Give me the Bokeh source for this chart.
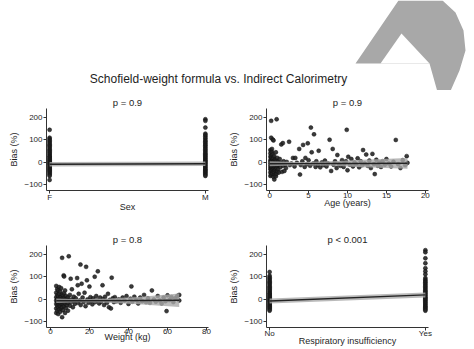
from bokeh.plotting import figure
from bokeh.layouts import column, row
from bokeh.models import Range1d, FixedTicker
from bokeh.core.properties import value
from bokeh.embed import file_html
from bokeh.resources import INLINE

TITLE = "Schofield-weight formula vs. Indirect Calorimetry"
FONT = "Liberation Sans"
TXT = "#1e1e1e"

# ---------------- data ----------------
sex_f_bias = [145, 110, 104, 98, 92, 86, 80, 75, 70, 64, 58, 53, 48, 43, 38, 33, 28, 24, 20, 16,
              12, 8, 4, 0, -4, -8, -12, -16, -20, -24, -28, -32, -36, -40, -45, -50, -55, -60, -78]
sex_m_bias = [192, 185, 155, 128, 122, 115, 108, 100, 94, 88, 82, 76, 70, 64, 58, 52, 46, 40, 35,
              30, 25, 20, 15, 10, 5, 0, -5, -10, -15, -20, -25, -30, -35, -40, -45, -50, -55, -60]
sex_fit_x = [0, 1]
sex_fit = [-8, -6]
sex_lo = [-18, -16]
sex_hi = [2, 4]

age_years = [0.1, 0.1, 0.1, 0.1, 0.1, 0.1, 0.1, 0.1, 0.1, 0.1,
             0.2, 0.2, 0.2, 0.2, 0.2, 0.2, 0.2, 0.2, 0.2, 0.2, 0.2,
             0.3, 0.3, 0.3, 0.3, 0.3, 0.3, 0.3, 0.3, 0.3,
             0.4, 0.4, 0.4, 0.4, 0.4, 0.4, 0.4, 0.4,
             0.5, 0.5, 0.5, 0.5, 0.5, 0.5, 0.5, 0.5,
             0.6, 0.6, 0.6, 0.6, 0.6, 0.6, 0.6,
             0.7, 0.7, 0.7, 0.7, 0.7, 0.7,
             0.8, 0.8, 0.8, 0.8, 0.8, 0.8,
             0.9, 0.9, 0.9, 0.9, 0.9,
             1.0, 1.0, 1.0, 1.0, 1.1, 1.1, 1.1, 1.2, 1.2, 1.3, 1.4, 1.5, 1.5, 1.6, 1.7, 1.7,
             1.8, 1.9, 2.0, 2.1, 2.2, 2.5, 2.6, 2.8, 3.0, 3.2, 3.3, 3.5, 3.8, 3.9, 4.0, 4.2,
             4.3, 4.5, 4.6, 4.8, 4.9, 5.0, 5.2, 5.3, 5.4, 5.6, 5.7, 5.9, 6.0, 6.2, 6.3, 6.5,
             6.7, 6.9, 7.1, 7.3, 7.5, 7.7, 7.9, 8.1, 8.2, 8.4, 8.6, 8.7, 8.9, 9.1, 9.3, 9.5,
             9.6, 9.8, 9.9, 10.0, 10.1, 10.3, 10.5, 10.7, 10.9, 11.1, 11.3, 11.5, 11.7, 11.9,
             12.0, 12.2, 12.4, 12.6, 12.8, 13.0, 13.2, 13.4, 13.5, 13.7, 13.9, 14.1, 14.3,
             14.5, 14.8, 15.0, 15.3, 15.6, 15.9, 16.2, 16.5, 16.8, 17.1, 17.4, 17.6, 17.7]
age_bias = [-60, -45, -30, -20, -10, 0, 10, 25, 40, 55,
            -55, -38, -25, -15, -5, 5, 18, 30, 50, 110, 185,
            -50, -35, -22, -12, -3, 8, 22, 45, 60,
            -48, -30, -18, -8, 2, 15, 35, 102,
            -65, -40, -25, -14, -4, 6, 20, 98,
            -76, -45, -28, -16, -6, 4, 28,
            -55, -35, -20, -10, 0, 12,
            -62, -30, -15, -2, 10, 45,
            -50, -25, -8, 5, 192,
            -40, -18, -5, 20, -30, -12, 3, -45, -8, 15, -20, -2, 80, -42, -15, 86,
            5, -38, -10, -25, 2, 92, -12, -5, 20, -18, 20, -2, 60, -54, -12, 5,
            78, -20, 20, -8, 85, 10, -15, 155, 45, -5, 125, -20, 5, -10, 52, -22,
            0, -12, 8, -18, -5, 101, -38, 60, -10, 5, -25, 33, -8, -15, 10, -20,
            -5, 5, 145, -35, 25, -10, 15, -18, 0, -8, 18, -22, 5, -12,
            55, -5, 35, -15, 8, -25, 38, -8, -52, 12, -15, 0, -20,
            5, -10, 15, -5, -18, 3, 100, -8, -25, 10, -12, 28, -2]
age_fit_x = [0, 4, 8, 12, 17.7]
age_fit = [-6, -5.5, -5, -4.5, -4]
age_lo = [-17, -13, -15, -21, -28]
age_hi = [5, 2, 5, 12, 20]

weight_kg = [3, 3, 3, 3, 3, 3, 3, 3.5, 3.5, 3.5, 3.5, 3.5, 3.5, 4, 4, 4, 4, 4, 4, 4,
             4.5, 4.5, 4.5, 4.5, 4.5, 4.5, 5, 5, 5, 5, 5, 5, 5.5, 5.5, 5.5, 5.5, 5.5,
             6, 6, 6, 6, 6, 6, 6.5, 6.5, 6.5, 6.5, 6.8, 7, 7, 7, 7, 7, 7.5, 7.5, 7.5, 7.5,
             8, 8, 8, 8.5, 8.5, 9, 9, 9, 9.4, 9.5, 10, 10, 10.4, 10.5, 11, 11, 11.5, 12, 12,
             12.5, 13, 13.7, 14, 14, 14.5, 15, 15.4, 15.5, 16, 16.5, 17, 17.5, 18, 18.3,
             18.7, 19, 19.5, 20, 20.5, 21, 21.5, 22, 22.7, 23, 23.5, 24, 24.3, 25, 25.5,
             26, 26.7, 27, 27.5, 28, 28.5, 29, 29.5, 30, 30.5, 31, 31.4, 32, 32.5, 33, 34,
             35, 36, 37, 38, 39, 40, 41, 41.5, 42, 43, 44, 45, 46, 47, 48, 49, 50, 51, 52,
             53, 54, 55, 56, 57, 58, 59, 59.5, 60, 61, 62, 63, 64, 65, 66, 66]
weight_bias = [-60, -40, -20, -5, 10, 30, 60, -50, -28, -12, 2, 20, 45, -65, -35, -18, -8, 5, 15, 40,
               -45, -25, -10, 0, 25, 55, -55, -30, -15, -3, 8, 35, -40, -20, -6, 12, 50,
               -79, -35, -12, 3, 22, 185, -48, -22, -2, 18, 107, -30, -10, 6, 28, 102, -60, -18, 0, 40,
               -38, -8, 15, -25, 4, -50, -15, 10, 192, -5, -28, 20, 92, -12, 0, 45, -35, -8, 12,
               -20, 5, 95, -15, 63, 25, -5, 155, -25, 70, 8, -12, 30, -30, 145,
               85, 0, -15, 57, 10, -8, -22, 5, 101, -12, 15, -5, 125, -18, 8,
               -10, 63, 2, -25, 12, -6, -15, 25, -35, -2, -40, 97, 5, -12, 10, -8,
               0, -15, 8, -5, 15, -20, 3, 58, -10, 12, -3, -18, 8, -8, 20, -12, 5, -15, 40,
               0, -10, 15, -5, -18, 8, -8, -52, 18, -3, 10, -12, 5, 15, 20, -5]
weight_fit_x = [3, 15, 30, 45, 66]
weight_fit = [-6, -6, -5.5, -5, -4]
weight_lo = [-16, -13, -15, -21, -34]
weight_hi = [4, 1, 4, 11, 26]

resp_no_bias = [122, 105, 98, 92, 86, 80, 75, 70, 64, 58, 53, 48, 43, 38, 33, 28, 24, 20, 16,
                12, 8, 4, 0, -4, -8, -12, -16, -20, -24, -28, -32, -36, -40, -45, -50]
resp_yes_bias = [219, 210, 183, 161, 139, 125, 112, 95, 88, 82, 76, 70, 64, 58, 52, 46, 40, 35,
                 30, 25, 20, 15, 10, 5, 0, -5, -10, -15, -20, -25, -30, -35, -40, -45, -50]
resp_fit_x = [0, 1]
resp_fit = [-7, 20]
resp_lo = [-18, 9]
resp_hi = [4, 31]

y_ticks = [-100, 0, 100, 200]
sex_labels = {0: "F", 1: "M"}
resp_labels = {0: "No", 1: "Yes"}
age_ticks = [0, 5, 10, 15, 20]
weight_ticks = [0, 20, 40, 60, 80]

# ---------------- watermark (decoration) ----------------
wm_x = [355, 398, 442, 455, 463, 465, 459, 448, 438, 429]
wm_y = [63, 0, 0, 12, 30, 50, 70, 95, 95, 63]
wm_in_x = [380, 401, 429]
wm_in_y = [63, 33, 63]


def style_axes(p, xticks, xlabel, overrides=None, lab_off=-1, title_off=-3):
    p.grid.visible = False
    p.outline_line_color = None
    p.yaxis.ticker = FixedTicker(ticks=y_ticks)
    p.xaxis.ticker = FixedTicker(ticks=xticks)
    if overrides:
        p.xaxis.major_label_overrides = overrides
    p.yaxis.axis_label = "Bias (%)"
    p.xaxis.axis_label = xlabel
    for ax in (p.xaxis[0], p.yaxis[0]):
        ax.axis_line_color = "#333333"
        ax.major_tick_line_color = "#333333"
        ax.major_tick_out = 3
        ax.major_tick_in = 0
        ax.minor_tick_line_color = None
        ax.major_label_text_font = FONT
        ax.major_label_text_font_size = "8px"
        ax.major_label_text_color = TXT
        ax.axis_label_text_font = FONT
        ax.axis_label_text_font_size = "9px"
        ax.axis_label_text_font_style = "normal"
        ax.axis_label_text_color = TXT
    p.xaxis.major_label_standoff = lab_off
    p.xaxis.axis_label_standoff = title_off
    p.yaxis.major_label_standoff = 1
    p.yaxis.axis_label_standoff = 2
    p.yaxis.major_label_orientation = "horizontal"


def panel(width, height, left, right, top, bottom, xr, ptext):
    p = figure(width=width, height=height, x_range=Range1d(*xr), y_range=Range1d(-125, 240),
               output_backend="svg", toolbar_location=None, title=ptext,
               min_border_left=left, min_border_right=right,
               min_border_top=top, min_border_bottom=bottom)
    p.title.align = "center"
    p.title.text_font = FONT
    p.title.text_font_size = "9.5px"
    p.title.text_font_style = "normal"
    p.title.text_color = TXT
    p.title.standoff = 2
    p.title.offset = 0
    return p


MK = dict(size=4, fill_color="#262626", line_color="#111111", line_width=0.5, fill_alpha=0.9)
BAND = dict(fill_color="#a9a9a9", fill_alpha=0.8)
LINE = dict(line_color="#222222", line_width=1.4)

# top-left: sex
p1 = panel(225, 125, 46, 17, 18, 25, (-0.02, 1.02), "p = 0.9")
p1.scatter([0] * len(sex_f_bias), sex_f_bias, **MK)
p1.scatter([1] * len(sex_m_bias), sex_m_bias, **MK)
p1.varea(x=sex_fit_x, y1=sex_lo, y2=sex_hi, **BAND)
p1.line(sex_fit_x, sex_fit, **LINE)
style_axes(p1, [0, 1], "Sex", sex_labels)

# top-right: age
p2 = panel(249, 125, 41, 46, 18, 25, (-0.4, 20.4), "p = 0.9")
p2.scatter(age_years, age_bias, **MK)
p2.varea(x=age_fit_x, y1=age_lo, y2=age_hi, **BAND)
p2.line(age_fit_x, age_fit, **LINE)
style_axes(p2, age_ticks, "Age (years)")

# bottom-left: weight
p3 = panel(225, 134, 46, 17, 30, 22, (-2, 81), "p = 0.8")
p3.scatter(weight_kg, weight_bias, **MK)
p3.varea(x=weight_fit_x, y1=weight_lo, y2=weight_hi, **BAND)
p3.line(weight_fit_x, weight_fit, **LINE)
style_axes(p3, weight_ticks, "Weight (kg)", lab_off=-2, title_off=-5)

# bottom-right: respiratory insufficiency
p4 = panel(249, 134, 41, 46, 30, 22, (-0.02, 1.02), "p < 0.001")
p4.scatter([0] * len(resp_no_bias), resp_no_bias, **MK)
p4.scatter([1] * len(resp_yes_bias), resp_yes_bias, **MK)
p4.varea(x=resp_fit_x, y1=resp_lo, y2=resp_hi, **BAND)
p4.line(resp_fit_x, resp_fit, **LINE)
style_axes(p4, [0, 1], "Respiratory insufficiency", resp_labels, lab_off=-2, title_off=-5)

# title strip
pt = figure(width=474, height=90, x_range=Range1d(0, 474), y_range=Range1d(90, 0),
            output_backend="svg", toolbar_location=None, min_border=0)
pt.axis.visible = False
pt.grid.visible = False
pt.outline_line_color = None
pt.patch(wm_x, wm_y, fill_color="#a8a8a8", line_color=None)
pt.patch(wm_in_x, wm_in_y, fill_color="white", line_color=None)
pt.text(x=[218], y=[78], text=[TITLE], text_align="center", text_baseline="middle",
        text_font=value(FONT), text_font_size="12px", text_color=TXT)

layout = column(pt, row(p1, p2), row(p3, p4))
open("out.html", "w").write(file_html(layout, INLINE))
